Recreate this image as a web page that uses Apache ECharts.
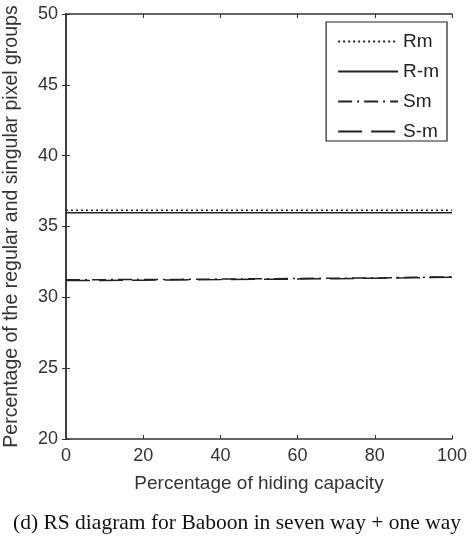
<!DOCTYPE html>
<html>
<head>
<meta charset="utf-8">
<script src="https://cdn.jsdelivr.net/npm/echarts@6/dist/echarts.min.js"></script>
<style>html,body{margin:0;padding:0;background:#fff}#c{width:474px;height:540px}</style>
</head>
<body>
<div id="c"></div>
<script>
const xValues = [0, 10, 20, 30, 40, 50, 60, 70, 80, 90, 100];
const rmValues  = [36.15, 36.15, 36.15, 36.15, 36.15, 36.15, 36.15, 36.15, 36.15, 36.15, 36.15];
const rNegValues = [35.97, 35.97, 35.97, 35.97, 35.97, 35.97, 35.97, 35.97, 35.97, 35.97, 35.97];
const smValues  = [31.24, 31.25, 31.26, 31.27, 31.29, 31.31, 31.33, 31.35, 31.37, 31.41, 31.45];
const sNegValues = [31.18, 31.19, 31.21, 31.23, 31.25, 31.27, 31.29, 31.32, 31.35, 31.38, 31.42];
const seriesNames = ['Rm', 'R-m', 'Sm', 'S-m'];
const xTicks = [0, 20, 40, 60, 80, 100];
const yTicks = [20, 25, 30, 35, 40, 45, 50];
const caption = '(d) RS diagram for Baboon in seven way + one way';

const chart = echarts.init(document.getElementById('c'));
const pairs = v => xValues.map((x, i) => [x, v[i]]);
const font = 'Liberation Sans, Arial, sans-serif';
const lineColor = '#222';
const dashes = ['dotted', 'solid', 'dashdot', 'dashed'];
function mk(name, vals, dash) {
  let type = 'solid';
  if (dash === 'dotted') type = [2, 3];
  if (dash === 'dashdot') type = [14, 5, 2, 5];
  if (dash === 'dashed') type = [24, 9];
  return {
    name: name, type: 'line', data: pairs(vals), symbol: 'none',
    lineStyle: { color: lineColor, width: 1.5, type: type },
    itemStyle: { color: lineColor },
    animation: false
  };
}
const axisCommon = {
  min: 0, max: 100, interval: 20,
  axisLine: { show: true, lineStyle: { color: '#333', width: 1.5 } },
  axisTick: { show: true, inside: true, length: 4, lineStyle: { color: '#333' } },
  splitLine: { show: false }
};
chart.setOption({
  backgroundColor: '#fff',
  animation: false,
  grid: { left: 66, right: 22, top: 14, bottom: 101, containLabel: false, outerBoundsMode: 'none' },
  legend: {
    data: seriesNames,
    orient: 'vertical',
    right: 27, top: 22,
    itemWidth: 60, itemHeight: 14, itemGap: 11,
    padding: [10, 8, 0, 11],
    borderColor: '#222', borderWidth: 1.2,
    backgroundColor: '#fff',
    align: 'left',
    itemStyle: { opacity: 0 },
    textStyle: { fontFamily: font, fontSize: 19, color: '#222' }
  },
  xAxis: [
    Object.assign({}, axisCommon, {
      type: 'value', position: 'bottom',
      axisLabel: { fontFamily: font, fontSize: 18, color: '#333', margin: 8,
        customValues: xTicks },
      name: 'Percentage of hiding capacity', nameLocation: 'middle', nameGap: 35,
      nameTextStyle: { fontFamily: font, fontSize: 19, color: '#333' }
    }),
    Object.assign({}, axisCommon, {
      type: 'value', position: 'top', axisLabel: { show: false }
    })
  ],
  yAxis: [
    Object.assign({}, axisCommon, {
      type: 'value', position: 'left', min: 20, max: 50, interval: 5,
      axisLabel: { fontFamily: font, fontSize: 18, color: '#333', margin: 8 },
      name: 'Percentage of the regular and singular pixel groups',
      nameLocation: 'middle', nameGap: 44,
      nameTextStyle: { fontFamily: font, fontSize: 19.5, color: '#333' }
    }),
    Object.assign({}, axisCommon, {
      type: 'value', position: 'right', min: 20, max: 50, interval: 5,
      axisLabel: { show: false }
    })
  ],
  series: [
    mk(seriesNames[0], rmValues, dashes[0]),
    mk(seriesNames[1], rNegValues, dashes[1]),
    mk(seriesNames[2], smValues, dashes[2]),
    mk(seriesNames[3], sNegValues, dashes[3])
  ],
  graphic: [{
    type: 'text', left: 'center', top: 512,
    style: { text: caption, font: '21.5px "Liberation Serif", "Times New Roman", serif', fill: '#111' }
  }]
});
</script>
</body>
</html>
